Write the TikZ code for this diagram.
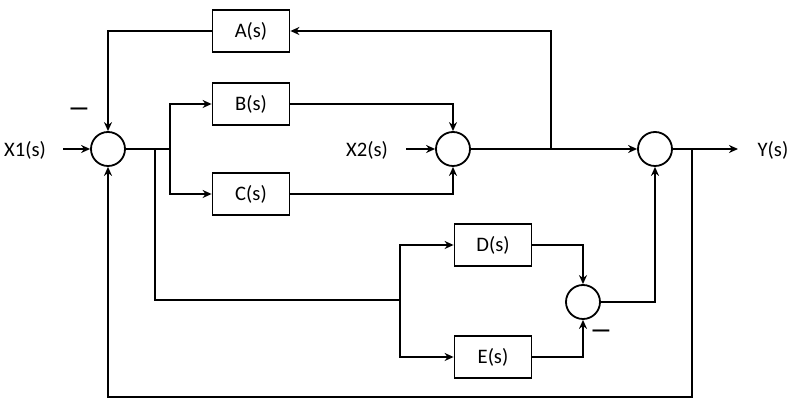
\documentclass[tikz,border=0pt]{standalone}
\usepackage{fontspec}
\setmainfont{Carlito}
\usepackage{tikz}
\usetikzlibrary{arrows.meta, positioning}

\tikzset{
  block/.style={rectangle, draw, minimum width=38.5pt, minimum height=21pt, inner sep=0pt},
  summer/.style={circle, draw, minimum size=17pt, inner sep=0pt},
  minus/.style={font=\fontsize{11.5}{12}\selectfont\bfseries, inner sep=0pt},
  sig/.style={-{Stealth[length=4.5pt, width=4pt]}}
}

\begin{document}
\begin{tikzpicture}[x=0.5pt, y=-0.5pt, line width=0.9pt, font=\fontsize{10.3}{12}\selectfont]
  \useasboundingbox (0,0) rectangle (800,406);
  % blocks
  \node[block] (A) at (251,31) {A(s)};
  \node[block] (B) at (251,104) {B(s)};
  \node[block] (C) at (251,194) {C(s)};
  \node[block] (D) at (493,245) {D(s)};
  \node[block] (E) at (493,357) {E(s)};
  % summing points
  \node[summer] (S1) at (108,149) {};
  \node[summer] (S2) at (453,149) {};
  \node[summer] (S3) at (583,302) {};
  \node[summer] (S4) at (655,149) {};
  % signals
  \node (X1) at (25,150) {X1(s)};
  \node (X2) at (367,150) {X2(s)};
  \node (Y) at (773,150) {Y(s)};
  \node[minus] (M1) at (79,112) {---};
  \node[minus] (M3) at (601,334) {---};
  \coordinate (x1in) at (63,149);
  \coordinate (x2in) at (406,149);
  \coordinate (yout) at (738,149);
  \coordinate (t1) at (170,149);
  \coordinate (t2) at (155,149);
  \coordinate (t3) at (551,149);
  \coordinate (t4) at (692,149);
  \coordinate (t5) at (400,300);
  \coordinate (fb) at (692,397);
  % connections
  \draw[sig] (x1in) -- (S1.west);
  \draw (S1.east) -- (t1);
  \draw[sig] (t1) |- (B.west);
  \draw[sig] (t1) |- (C.west);
  \draw[sig] (B.east) -| (S2.north);
  \draw[sig] (C.east) -| (S2.south);
  \draw[sig] (x2in) -- (S2.west);
  \draw[sig] (S2.east) -- (S4.west);
  \draw[sig] (t3) |- (A.east);
  \draw[sig] (A.west) -| (S1.north);
  \draw (t2) |- (t5);
  \draw[sig] (t5) |- (D.west);
  \draw[sig] (t5) |- (E.west);
  \draw[sig] (D.east) -| (S3.north);
  \draw[sig] (E.east) -| (S3.south);
  \draw[sig] (S3.east) -| (S4.south);
  \draw[sig] (S4.east) -- (yout);
  \draw[sig] (t4) -- (fb) -| (S1.south);
\end{tikzpicture}
\end{document}
